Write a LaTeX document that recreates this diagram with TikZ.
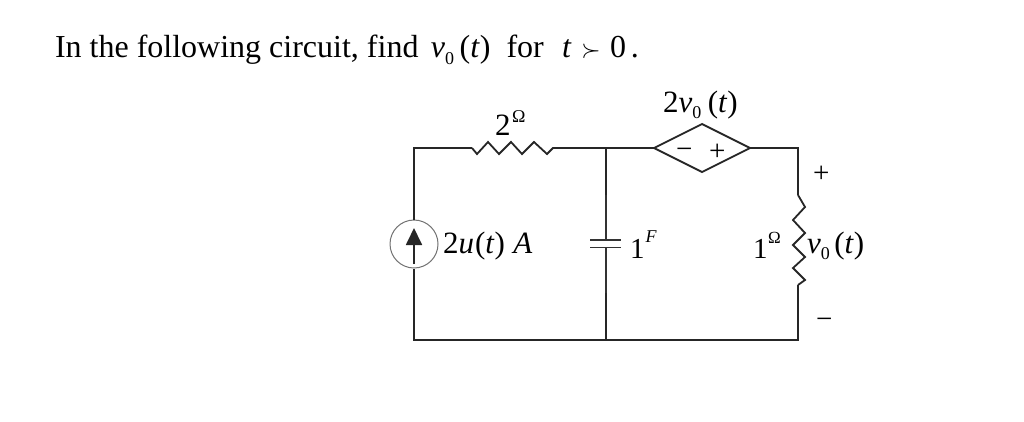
\documentclass[tikz,border=0pt]{standalone}
\usepackage{fontspec}
\setmainfont{Liberation Serif}
\usetikzlibrary{arrows.meta}
\tikzset{
  wire/.style={draw=black!85,line width=1.8pt,line join=miter},
  thinwire/.style={draw=black!80,line width=1.1pt},
  lab/.style={inner sep=0pt,outer sep=0pt,anchor=base west,font=\fontsize{31}{34}\selectfont},
  sign/.style={inner sep=0pt,outer sep=0pt,anchor=base west,font=\fontsize{29}{32}\selectfont},
  small/.style={inner sep=0pt,outer sep=0pt,anchor=base west,font=\fontsize{18}{20}\selectfont},
  src/.style={circle,draw=black!55,line width=1pt,minimum size=48pt,inner sep=0pt},
  dep/.style={draw=black!85,line width=1.8pt}
}
\newcommand{\vz}{\textit{v}\raisebox{-0.22em}{\fontsize{18}{20}\selectfont 0}}
\begin{document}
\begin{tikzpicture}[x=1pt,y=-1pt]
\useasboundingbox (0,0) rectangle (1024,421);
\fill[white] (0,0) rectangle (1024,421);
% title
\node[lab,font=\fontsize{32}{34}\selectfont] (title) at (55,57) {In the following circuit, find\hspace{12.4pt}\vz\hspace{5.6pt}(\textit{t})\hspace{16pt}for\hspace{18.4pt}\textit{t}\hspace{9.5pt}$\succ$\hspace{9.5pt}0\hspace{4.8pt}.};
% junctions
\coordinate (tl) at (414,148);
\coordinate (bl) at (414,340);
\coordinate (tm) at (606,148);
\coordinate (bm) at (606,340);
\coordinate (tr) at (798,148);
\coordinate (br) at (798,340);
\coordinate (rA) at (472,148);
\coordinate (rB) at (556,148);
\coordinate (rC) at (798,195);
\coordinate (rD) at (798,285);
\coordinate (dl) at (654,148);
\coordinate (dr) at (750,148);
\coordinate (dt) at (702,124);
\coordinate (db) at (702,172);
\coordinate (cu) at (606,240);
\coordinate (cl) at (606,247.5);
\coordinate (cu2) at (606,195);
\coordinate (cl2) at (606,293);
\coordinate (cua) at (590,240);
\coordinate (cub) at (621,240);
\coordinate (cla) at (590,247.5);
\coordinate (clb) at (621,247.5);
% source
\node[src] (S) at (414,244) {};
\draw[wire] (S.north) -- (tl) -- (rA);
\draw[wire] (rA) -- (477,154) -- (488,142) -- (499,154) -- (511,142) -- (522,154) -- (534,142) -- (547,154) -- (553,148) -- (rB);
\draw[wire] (rB) -- (tm) -- (dl);
\draw[dep] (dl) -- (dt) -- (dr) -- (db) -- cycle;
\draw[wire] (dr) -- (tr) -- (rC);
\draw[wire] (rC) -- (805,207) -- (793,220) -- (805,233) -- (793,245) -- (805,257) -- (793,268) -- (805,280) -- (rD);
\draw[wire] (rD) -- (br) -- (bl) -- (S.south);
% capacitor branch
\draw[wire] (tm) -- (cu2);
\draw[thinwire] (cu2) -- (cu);
\draw[thinwire] (cua) -- (cub);
\draw[thinwire] (cla) -- (clb);
\draw[thinwire] (cl) -- (cl2);
\draw[wire] (cl2) -- (bm);
% source arrow
\coordinate (aT) at (414,228);
\coordinate (aB) at (414,264);
\draw[wire,-{Triangle[length=17pt,width=16pt]}] (aB) -- (aT);
% labels
\node[lab] (r2) at (495,135) {2};
\node[small] (r2o) at (512,122) {Ω};
\node[lab] (srcl) at (443,253) {2\textit{u}\hspace{1pt}(\textit{t})\hspace{8.5pt}\textit{A}};
\node[lab,font=\fontsize{29}{32}\selectfont] (c1) at (630,258) {1};
\node[small,font=\fontsize{18}{20}\selectfont\itshape] (c1f) at (645.5,242) {F};
\node[lab,font=\fontsize{29}{32}\selectfont] (r1) at (753,258) {1};
\node[small,font=\fontsize{17}{20}\selectfont] (r1o) at (768,243) {Ω};
\node[lab] (vo) at (807,253) {\vz\hspace{4.5pt}(\textit{t})};
\node[lab] (dv) at (663,112) {2\vz\hspace{6.5pt}(\textit{t})};
\node[sign] (dm) at (676,158) {−};
\node[sign] (dp) at (709,160) {+};
\node[sign] (pp) at (813,182) {+};
\node[sign] (mm) at (816,328) {−};
\end{tikzpicture}
\end{document}
